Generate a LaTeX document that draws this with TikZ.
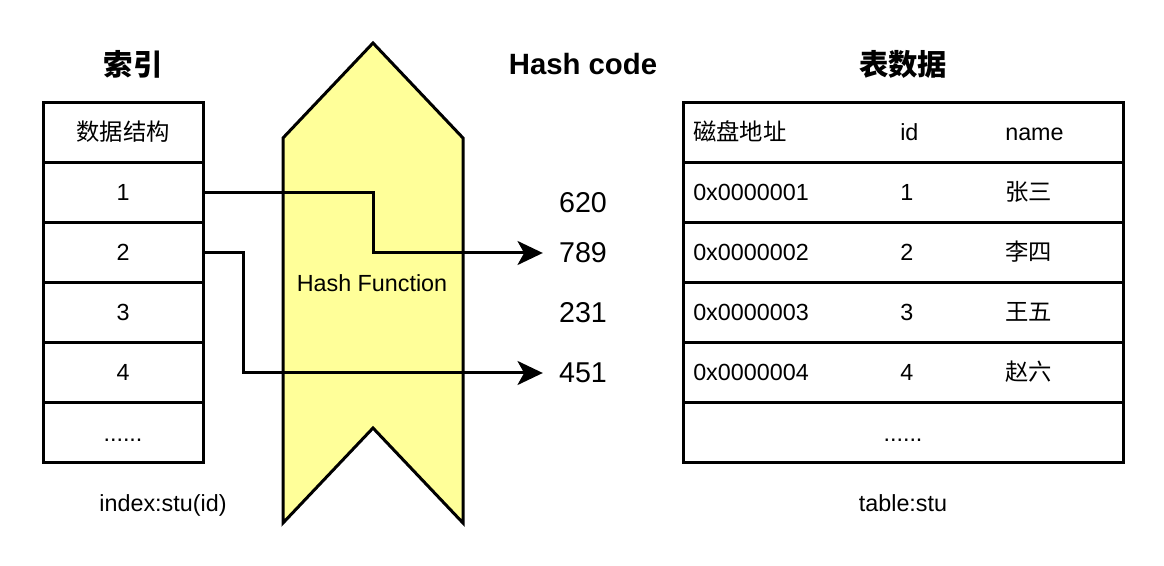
\documentclass[tikz,border=0pt]{standalone}
\usepackage{fontspec}
\setmainfont{Liberation Sans}
\newfontfamily\cjk{Noto Sans CJK SC}
\usetikzlibrary{arrows.meta}
\definecolor{hashyellow}{HTML}{FFFF99}
\begin{document}
\begin{tikzpicture}[x=0.75pt,y=-0.75pt,
  cell/.style={draw, line width=2.25pt, minimum width=120pt, minimum height=45pt, inner sep=0pt, text height=13.5pt, text depth=1.5pt, font=\fontsize{17.5}{20}\selectfont},
  wcell/.style={cell, minimum width=330pt},
  txt/.style={inner sep=0pt, anchor=west, text height=13.5pt, text depth=1.5pt, font=\fontsize{17.5}{20}\selectfont},
  ctxt/.style={inner sep=0pt, text height=13.5pt, text depth=1.5pt, font=\fontsize{17.5}{20}\selectfont},
  title/.style={inner sep=0pt, font=\fontsize{22}{26}\selectfont\bfseries},
  num/.style={inner sep=0pt, font=\fontsize{21.5}{26}\selectfont},
  hashshape/.style={draw, line width=2.25pt, fill=hashyellow, line join=miter},
  conn/.style={line width=2.25pt, -{Stealth[length=19pt,width=18pt,inset=5pt]}, shorten >=12pt}
]
\useasboundingbox (0,0) rectangle (1164,566);

% titles
\node[title] (t1) at (133,64) {\cjk 索引};
\node[title] (t2) at (583,64) {Hash code};
\node[title] (t3) at (903,64) {\cjk 表数据};

% hash function shape
\draw[hashshape] (373,43) -- (463,138) -- (463,523) -- (373,428) -- (283,523) -- (283,138) -- cycle;
\node[ctxt] (hf) at (372,284) {Hash Function};

% left table
\node[cell] (r0) at (123,133) {\cjk 数据结构};
\node[cell] (r1) at (123,193) {1};
\node[cell] (r2) at (123,253) {2};
\node[cell] (r3) at (123,313) {3};
\node[cell] (r4) at (123,373) {4};
\node[cell] (r5) at (123,433) {......};
\node[ctxt] (li) at (163,503) {index:stu(id)};

% hash codes
\node[num] (n620) at (583,203) {620};
\node[num] (n789) at (583,253) {789};
\node[num] (n231) at (583,313) {231};
\node[num] (n451) at (583,373) {451};

% right table
\node[wcell] (d0) at (903,133) {};
\node[wcell] (d1) at (903,193) {};
\node[wcell] (d2) at (903,253) {};
\node[wcell] (d3) at (903,313) {};
\node[wcell] (d4) at (903,373) {};
\node[wcell] (d5) at (903,433) {......};

\node[txt] (a0) at (693,133) {\cjk 磁盘地址};
\node[txt] (b0) at (900,133) {id};
\node[txt] (c0) at (1005,133) {name};
\node[txt] (a1) at (693,193) {0x0000001};
\node[txt] (b1) at (900,193) {1};
\node[txt] (c1) at (1005,193) {\cjk 张三};
\node[txt] (a2) at (693,253) {0x0000002};
\node[txt] (b2) at (900,253) {2};
\node[txt] (c2) at (1005,253) {\cjk 李四};
\node[txt] (a3) at (693,313) {0x0000003};
\node[txt] (b3) at (900,313) {3};
\node[txt] (c3) at (1005,313) {\cjk 王五};
\node[txt] (a4) at (693,373) {0x0000004};
\node[txt] (b4) at (900,373) {4};
\node[txt] (c4) at (1005,373) {\cjk 赵六};
\node[ctxt] (lt) at (903,503) {table:stu};

% connectors
\coordinate (k1) at (373,253);
\coordinate (k2) at (243,373);
\draw[conn] (r1.east) -| (k1) -- (n789.west);
\draw[conn] (r2.east) -| (k2) -- (n451.west);
\end{tikzpicture}
\end{document}
